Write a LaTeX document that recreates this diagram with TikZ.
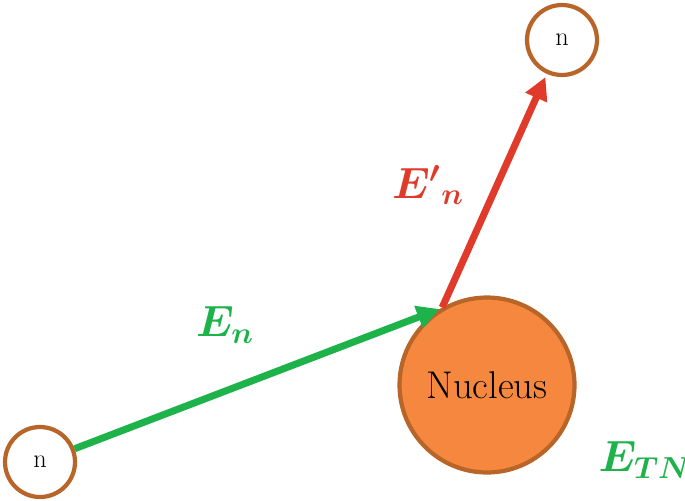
\documentclass[tikz,border=0pt]{standalone}
\usetikzlibrary{arrows.meta}
\definecolor{rim}{RGB}{184,101,42}
\definecolor{core}{RGB}{245,136,62}
\definecolor{inc}{RGB}{29,179,74}
\definecolor{outc}{RGB}{224,58,42}
\tikzset{
  neutron/.style={circle, draw=rim, line width=2.4pt, fill=white, minimum size=1.4cm, inner sep=0pt, font=\fontsize{15}{17}\selectfont},
  track/.style={line width=4pt, -{Triangle[length=0.45cm, width=0.45cm]}},
  lbl/.style={font=\boldmath\fontsize{24}{28}\selectfont}
}
\begin{document}
\begin{tikzpicture}[x=0.02cm, y=-0.02cm]
    \useasboundingbox (0,0) rectangle (685,500);
    % ノード
    \node[neutron] (nin) at (40, 462) {n};
    \node[neutron] (nout) at (562, 40) {n};
    \node[circle, draw=rim, line width=2.4pt, fill=core, minimum size=3.5cm, inner sep=0pt, font=\fontsize{22}{26}\selectfont] (nuc) at (487, 385) {Nucleus};

    % エッジ
    \draw[track, inc] (nin) -- (nuc.122);
    \draw[track, outc, shorten >=2pt] (nuc.120) -- (nout);

    % ラベル
    \node[lbl, text=inc] (en) at (225, 325) {$E_n$};
    \node[lbl, text=outc] (epn) at (428, 185) {$E'{}_n$};
    \node[lbl, text=inc] (etn) at (645, 460) {$E_{TN}$};
\end{tikzpicture}
\end{document}
